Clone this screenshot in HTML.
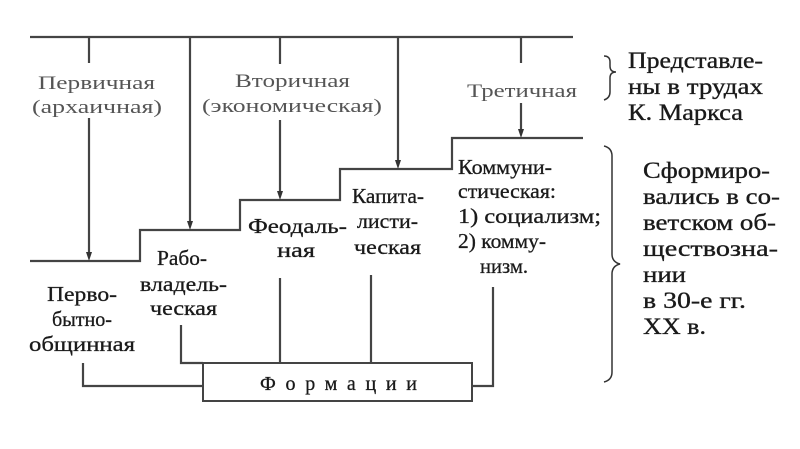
<!DOCTYPE html>
<html><head><meta charset="utf-8"><style>
html,body{margin:0;padding:0;background:#fff;}
svg{display:block}
text{font-family:"Liberation Serif","DejaVu Serif",serif;}
.s{font-size:19px;fill:#555;}
.b{font-size:21px;fill:#1a1a1a;stroke:#1a1a1a;stroke-width:0.3;}
.r{font-size:23px;fill:#1a1a1a;stroke:#1a1a1a;stroke-width:0.35;}
</style></head><body>
<svg width="800" height="449" viewBox="0 0 800 449" xmlns="http://www.w3.org/2000/svg">
<g stroke="#444" stroke-width="2.2" fill="none">
<line x1="30" y1="37" x2="573" y2="37"/>
<line x1="89" y1="37" x2="89" y2="63"/>
<line x1="89" y1="118" x2="89" y2="255"/>
<line x1="190" y1="37" x2="190" y2="224"/>
<line x1="280" y1="37" x2="280" y2="64"/>
<line x1="280" y1="120" x2="280" y2="194"/>
<line x1="398" y1="37" x2="398" y2="163"/>
<line x1="521" y1="37" x2="521" y2="63"/>
<line x1="521" y1="103" x2="521" y2="132"/>
<polyline points="30,261 140,261 140,230 240,230 240,200 340,200 340,169 452,169 452,138 583,138"/>
<rect x="203" y="363" width="269" height="38" stroke-width="2"/>
<polyline points="83,363 83,386 203,386"/>
<polyline points="493,287 493,386 472,386"/>
<polyline points="181,325 181,363 203,363"/>
<line x1="280" y1="278" x2="280" y2="363"/>
<line x1="371" y1="275" x2="371" y2="363"/>
</g>
<g fill="#333">
<polygon points="86,252 92,252 89,261"/>
<polygon points="187,221 193,221 190,230"/>
<polygon points="277,191 283,191 280,200"/>
<polygon points="395,160 401,160 398,169"/>
<polygon points="518,129 524,129 521,138"/>
</g>
<g stroke="#333" stroke-width="1.5" fill="none">
<path d="M604,56 Q610,56 610,62 L610,66 Q610,72 616,72 Q610,72 610,78 L610,92 Q610,98 604,100"/>
<path d="M604,146 Q612,148 612,156 L612,254 Q612,262 620,264 Q612,266 612,274 L612,372 Q612,380 604,382"/>
</g>
<g class="s">
<text x="38" y="89" textLength="117" lengthAdjust="spacingAndGlyphs">Первичная</text>
<text x="32" y="113" textLength="130" lengthAdjust="spacingAndGlyphs">(архаичная)</text>
<text x="235" y="87" textLength="115" lengthAdjust="spacingAndGlyphs">Вторичная</text>
<text x="202" y="112" textLength="180" lengthAdjust="spacingAndGlyphs">(экономическая)</text>
<text x="467" y="97" textLength="110" lengthAdjust="spacingAndGlyphs">Третичная</text>
</g>
<g class="b">
<text x="47" y="301" textLength="70" lengthAdjust="spacingAndGlyphs">Перво-</text>
<text x="52" y="326" textLength="60" lengthAdjust="spacingAndGlyphs">бытно-</text>
<text x="29" y="351" textLength="106" lengthAdjust="spacingAndGlyphs">общинная</text>
<text x="157" y="265" textLength="50" lengthAdjust="spacingAndGlyphs">Рабо-</text>
<text x="140" y="291" textLength="87" lengthAdjust="spacingAndGlyphs">владель-</text>
<text x="150" y="315" textLength="67" lengthAdjust="spacingAndGlyphs">ческая</text>
<text x="248" y="233" textLength="99" lengthAdjust="spacingAndGlyphs">Феодаль-</text>
<text x="277" y="257" textLength="38" lengthAdjust="spacingAndGlyphs">ная</text>
<text x="352" y="203" textLength="72" lengthAdjust="spacingAndGlyphs">Капита-</text>
<text x="357" y="228" textLength="61" lengthAdjust="spacingAndGlyphs">листи-</text>
<text x="354" y="254" textLength="67" lengthAdjust="spacingAndGlyphs">ческая</text>
<text x="458" y="174" textLength="94" lengthAdjust="spacingAndGlyphs">Коммуни-</text>
<text x="458" y="198" textLength="98" lengthAdjust="spacingAndGlyphs">стическая:</text>
<text x="458" y="223" textLength="143" lengthAdjust="spacingAndGlyphs">1) социализм;</text>
<text x="458" y="248" textLength="88" lengthAdjust="spacingAndGlyphs">2) комму-</text>
<text x="480" y="273" textLength="48" lengthAdjust="spacingAndGlyphs">низм.</text>
<text x="260" y="390" textLength="157" lengthAdjust="spacing" style="font-size:20px">Формации</text>
</g>
<g class="r">
<text x="628" y="68" textLength="135" lengthAdjust="spacingAndGlyphs">Представле-</text>
<text x="628" y="94" textLength="135" lengthAdjust="spacingAndGlyphs">ны в трудах</text>
<text x="628" y="120" textLength="115" lengthAdjust="spacingAndGlyphs">К. Маркса</text>
<text x="643" y="178" textLength="127" lengthAdjust="spacingAndGlyphs">Сформиро-</text>
<text x="643" y="204" textLength="137" lengthAdjust="spacingAndGlyphs">вались в со-</text>
<text x="643" y="230" textLength="133" lengthAdjust="spacingAndGlyphs">ветском об-</text>
<text x="643" y="256" textLength="135" lengthAdjust="spacingAndGlyphs">ществозна-</text>
<text x="643" y="282" textLength="43" lengthAdjust="spacingAndGlyphs">нии</text>
<text x="643" y="308" textLength="103" lengthAdjust="spacingAndGlyphs">в 30-е гг.</text>
<text x="643" y="334" textLength="63" lengthAdjust="spacingAndGlyphs">XX в.</text>
</g>
</svg>
</body></html>
